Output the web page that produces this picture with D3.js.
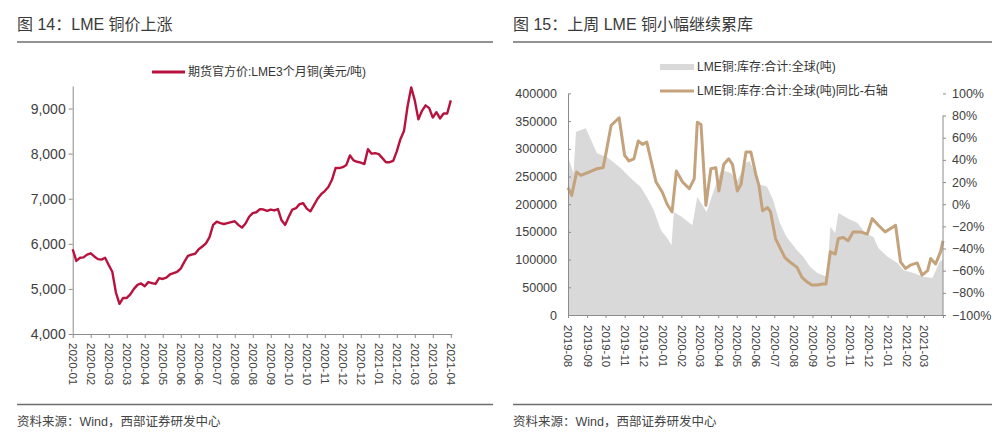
<!DOCTYPE html>
<html>
<head>
<meta charset="utf-8">
<script src="https://cdn.jsdelivr.net/npm/d3@7"></script>
<style>
    body { margin: 0; background: #fff; }
    svg { display: block; font-family: "Liberation Sans", Arial, "Noto Sans CJK SC", sans-serif; }
</style>
</head>
<body>
<script>
// ---- 图14: LME 3个月铜价 (every 3 trading days) ----
const priceName = "期货官方价:LME3个月铜(美元/吨)";
const priceValues = [
    5880, 5620, 5690, 5700, 5760, 5790, 5720, 5660, 5650, 5690,
    5530, 5380, 4920, 4670, 4800, 4800, 4880, 5000, 5090, 5120,
    5060, 5150, 5130, 5110, 5240, 5220, 5250, 5320, 5350, 5380,
    5450, 5600, 5730, 5760, 5780, 5880, 5940, 6010, 6150, 6420,
    6490, 6460, 6440, 6460, 6480, 6500, 6420, 6360, 6450, 6600,
    6680, 6700, 6770, 6760, 6730, 6760, 6740, 6770, 6520, 6420,
    6600, 6760, 6790, 6880, 6900, 6780, 6720, 6860, 7000, 7100,
    7170, 7260, 7420, 7680, 7680, 7700, 7750, 7960, 7850, 7820,
    7800, 7770, 8100, 8000, 8010, 7990, 7900, 7810, 7810, 7840,
    8050, 8320, 8500, 9050, 9470, 9180, 8760, 8950, 9070, 9010,
    8800, 8920, 8780, 8890, 8890, 9180
];
const priceDayStep = 3;      // trading days between stored values
const priceTickStep = 15;    // trading days between x labels
const priceTickLabels = [
    "2020-01", "2020-02", "2020-03", "2020-03", "2020-04", "2020-05",
    "2020-06", "2020-06", "2020-07", "2020-08", "2020-08", "2020-09",
    "2020-10", "2020-10", "2020-11", "2020-12", "2020-12", "2021-01",
    "2021-02", "2021-03", "2021-03", "2021-04"
];
const priceYTicks = [4000, 5000, 6000, 7000, 8000, 9000];

// ---- 图15: LME 铜库存 ----
const stockName = "LME铜:库存:合计:全球(吨)";
const yoyName = "LME铜:库存:合计:全球(吨)同比-右轴";
const stockDates = [
    "2019-08-01", "2019-08-10", "2019-08-14", "2019-08-30", "2019-09-17", "2019-10-03",
    "2019-10-26", "2019-11-11", "2019-11-27", "2019-12-07", "2019-12-18", "2019-12-30",
    "2020-01-09", "2020-01-16", "2020-01-20", "2020-02-02", "2020-02-19", "2020-02-27",
    "2020-03-13", "2020-03-25", "2020-04-06", "2020-04-22", "2020-05-01", "2020-05-16",
    "2020-05-22", "2020-06-08", "2020-06-19", "2020-06-29", "2020-07-10", "2020-07-21",
    "2020-08-07", "2020-08-17", "2020-08-28", "2020-09-09", "2020-09-17", "2020-09-25",
    "2020-09-30", "2020-10-08", "2020-10-13", "2020-10-27", "2020-11-13", "2020-11-26",
    "2020-12-09", "2020-12-17", "2021-01-01", "2021-01-17", "2021-01-27", "2021-02-12",
    "2021-02-28", "2021-03-15", "2021-03-26", "2021-04-01"
];
const stockValues = [
    285000, 256000, 331000, 337000, 292000, 285000,
    265000, 247000, 231000, 213000, 190000, 153000,
    139000, 126000, 186000, 177000, 162000, 213000,
    186000, 225000, 262000, 256000, 240000, 275000,
    278000, 235000, 232000, 208000, 166000, 141000,
    117000, 105000, 87000, 76000, 72000, 69000,
    159000, 148000, 184000, 175000, 166000, 148000,
    141000, 121000, 105000, 94000, 81000, 76000,
    69000, 67000, 95000, 100000
];
const yoyDates = [
    "2019-08-01", "2019-08-07", "2019-08-15", "2019-08-22", "2019-09-04", "2019-09-17", "2019-09-27", "2019-10-02", "2019-10-10", "2019-10-23",
    "2019-11-01", "2019-11-08", "2019-11-16", "2019-11-23", "2019-11-30", "2019-12-07", "2019-12-14", "2019-12-22", "2020-01-01", "2020-01-09",
    "2020-01-17", "2020-01-24", "2020-02-03", "2020-02-14", "2020-02-22", "2020-02-27", "2020-03-04", "2020-03-12", "2020-03-20", "2020-03-28",
    "2020-04-02", "2020-04-10", "2020-04-18", "2020-04-24", "2020-05-02", "2020-05-08", "2020-05-16", "2020-05-24", "2020-06-01", "2020-06-06",
    "2020-06-12", "2020-06-20", "2020-06-25", "2020-07-03", "2020-07-10", "2020-07-18", "2020-07-26", "2020-08-07", "2020-08-15", "2020-08-23",
    "2020-08-31", "2020-09-09", "2020-09-17", "2020-09-23", "2020-09-30", "2020-10-08", "2020-10-13", "2020-10-21", "2020-10-29", "2020-11-06",
    "2020-11-18", "2020-11-29", "2020-12-07", "2020-12-17", "2020-12-28", "2021-01-06", "2021-01-14", "2021-01-22", "2021-01-30", "2021-02-07",
    "2021-02-18", "2021-02-26", "2021-03-07", "2021-03-12", "2021-03-20", "2021-03-28", "2021-04-01"
];
const yoyValues = [
    15, 8, 29, 26, 29, 32, 33, 47, 71, 78,
    44, 39, 41, 57, 54, 56, 39, 20, 11, 0,
    -7, 30, 20, 14, 23, 74, 72, -1, 32, 33,
    12, 36, 41, 36, 12, 18, 47, 47, 27, 17,
    -6, -3, -7, -31, -39, -48, -52, -57, -66, -70,
    -73, -73, -72, -72, -43, -45, -31, -30, -33, -25,
    -25, -27, -13, -19, -25, -22, -19, -52, -58, -55,
    -53, -64, -60, -49, -54, -43, -33
];
const stockYTicks = [0, 50000, 100000, 150000, 200000, 250000, 300000, 350000, 400000];
const yoyYTicks = [-1, -0.8, -0.6, -0.4, -0.2, 0, 0.2, 0.4, 0.6, 0.8, 1];

const source = "资料来源：Wind，西部证券研发中心";

window.onload = main;

function main() {
    const svg = d3.select("body").append("svg")
        .attr("width", 1000)
        .attr("height", 445);

    drawFrame(svg, 17, 493, "图 14：LME 铜价上涨");
    drawFrame(svg, 513, 992, "图 15：上周 LME 铜小幅继续累库");
    drawPrice(svg);
    drawStock(svg);
}

// title, rules and source note around each panel
function drawFrame(svg, x0, x1, title) {
    svg.append("text")
        .attr("x", x0)
        .attr("y", 30)
        .style("font-size", "16px")
        .attr("fill", "#3a3a3a")
        .text(title);
    [42, 404.5].forEach(y => {
        svg.append("line")
            .attr("x1", x0).attr("x2", x1)
            .attr("y1", y).attr("y2", y)
            .attr("stroke", "#6e6e6e")
            .attr("stroke-width", 1.5);
    });
    svg.append("text")
        .attr("x", x0)
        .attr("y", 422)
        .attr("dominant-baseline", "central")
        .style("font-size", "12.5px")
        .attr("fill", "#444")
        .text(source);
}

function styleAxis(g) {
    g.selectAll("path, line").attr("stroke", "#8c8c8c");
    g.selectAll("text").attr("fill", "#404040");
}

function drawPrice(svg) {
    const color = "#b8123e";
    const data = priceValues.map((v, i) => ({ day: i * priceDayStep, v }));

    const x = d3.scaleLinear()
        .domain([0, 316])
        .range([72.7, 452]);
    const y = d3.scaleLinear()
        .domain([4000, 9500])
        .range([334, 86]);

    // Y axis
    svg.append("g")
        .attr("transform", "translate(72.7,0)")
        .call(d3.axisLeft(y)
            .tickValues(priceYTicks)
            .tickFormat(d3.format(","))
            .tickSize(4)
            .tickSizeOuter(0)
            .tickPadding(3))
        .call(styleAxis)
        .selectAll("text")
        .style("font-size", "14px");

    // X axis
    svg.append("g")
        .attr("transform", "translate(0,334)")
        .call(d3.axisBottom(x)
            .tickValues(priceTickLabels.map((d, i) => i * priceTickStep))
            .tickFormat((d, i) => priceTickLabels[i])
            .tickSize(4)
            .tickSizeOuter(0))
        .call(styleAxis)
        .selectAll("text")
        .attr("transform", "rotate(90)")
        .attr("x", 9)
        .attr("y", 0)
        .attr("dy", "0.35em")
        .style("text-anchor", "start")
        .style("font-size", "11.5px");

    svg.append("path")
        .datum(data)
        .attr("fill", "none")
        .attr("stroke", color)
        .attr("stroke-width", 2.4)
        .attr("stroke-linejoin", "round")
        .attr("d", d3.line().x(d => x(d.day)).y(d => y(d.v)));

    // Legend
    svg.append("line")
        .attr("x1", 152).attr("x2", 185)
        .attr("y1", 72).attr("y2", 72)
        .attr("stroke", color)
        .attr("stroke-width", 3);
    svg.append("text")
        .attr("x", 188)
        .attr("y", 72)
        .attr("dominant-baseline", "central")
        .style("font-size", "12px")
        .attr("fill", "#333")
        .text(priceName);
}

function drawStock(svg) {
    const grey = "#d9d9d9";
    const brown = "#c4a27c";
    const parse = d3.timeParse("%Y-%m-%d");
    const stock = stockDates.map((d, i) => ({ date: parse(d), v: stockValues[i] }));
    const yoy = yoyDates.map((d, i) => ({ date: parse(d), v: yoyValues[i] / 100 }));

    const start = parse("2019-08-01"), end = parse("2021-04-01");
    const x = d3.scaleTime()
        .domain([start, end])
        .range([568, 943]);
    const yL = d3.scaleLinear()
        .domain([0, 400000])
        .range([315, 93.4]);
    const yR = d3.scaleLinear()
        .domain([-1, 1])
        .range([315, 93.4]);

    svg.append("path")
        .datum(stock)
        .attr("fill", grey)
        .attr("d", d3.area()
            .x(d => x(d.date))
            .y0(yL(0))
            .y1(d => yL(d.v)));

    svg.append("path")
        .datum(yoy)
        .attr("fill", "none")
        .attr("stroke", brown)
        .attr("stroke-width", 3)
        .attr("stroke-linejoin", "round")
        .attr("d", d3.line().x(d => x(d.date)).y(d => yR(d.v)));

    // Left axis
    svg.append("g")
        .attr("transform", "translate(568,0)")
        .call(d3.axisLeft(yL)
            .tickValues(stockYTicks)
            .tickFormat(d3.format("d"))
            .tickSize(-3)
            .tickSizeOuter(0)
            .tickPadding(11))
        .call(styleAxis)
        .selectAll("text")
        .style("font-size", "12.5px");

    // Right axis (line drawn from 80% down)
    const right = svg.append("g")
        .attr("transform", "translate(943,0)")
        .call(d3.axisRight(yR)
            .tickValues(yoyYTicks)
            .tickFormat(d3.format(".0%"))
            .tickSize(3)
            .tickSizeOuter(0)
            .tickPadding(6))
        .call(styleAxis);
    right.select(".domain").remove();
    right.append("line")
        .attr("y1", yR(0.8)).attr("y2", yR(-1))
        .attr("stroke", "#8c8c8c");
    right.selectAll("text").style("font-size", "12.5px");

    // X axis
    const months = d3.timeMonth.range(start, d3.timeDay.offset(end, 1));
    svg.append("g")
        .attr("transform", "translate(0,315)")
        .call(d3.axisBottom(x)
            .tickValues(months)
            .tickFormat((d, i) => i < months.length - 1 ? d3.timeFormat("%Y-%m")(d) : "")
            .tickSize(3)
            .tickSizeOuter(0))
        .call(styleAxis)
        .selectAll("text")
        .attr("transform", "rotate(90)")
        .attr("x", 10)
        .attr("y", 0)
        .attr("dy", "0.35em")
        .style("text-anchor", "start")
        .style("font-size", "11.5px");

    // Legend
    svg.append("rect")
        .attr("x", 660).attr("y", 64)
        .attr("width", 34).attr("height", 6)
        .attr("fill", grey);
    svg.append("text")
        .attr("x", 697).attr("y", 67)
        .attr("dominant-baseline", "central")
        .style("font-size", "12px")
        .attr("fill", "#333")
        .text(stockName);
    svg.append("line")
        .attr("x1", 660).attr("x2", 694)
        .attr("y1", 91).attr("y2", 91)
        .attr("stroke", brown)
        .attr("stroke-width", 3);
    svg.append("text")
        .attr("x", 697).attr("y", 91)
        .attr("dominant-baseline", "central")
        .style("font-size", "12px")
        .attr("fill", "#333")
        .text(yoyName);
}
</script>
</body>
</html>
